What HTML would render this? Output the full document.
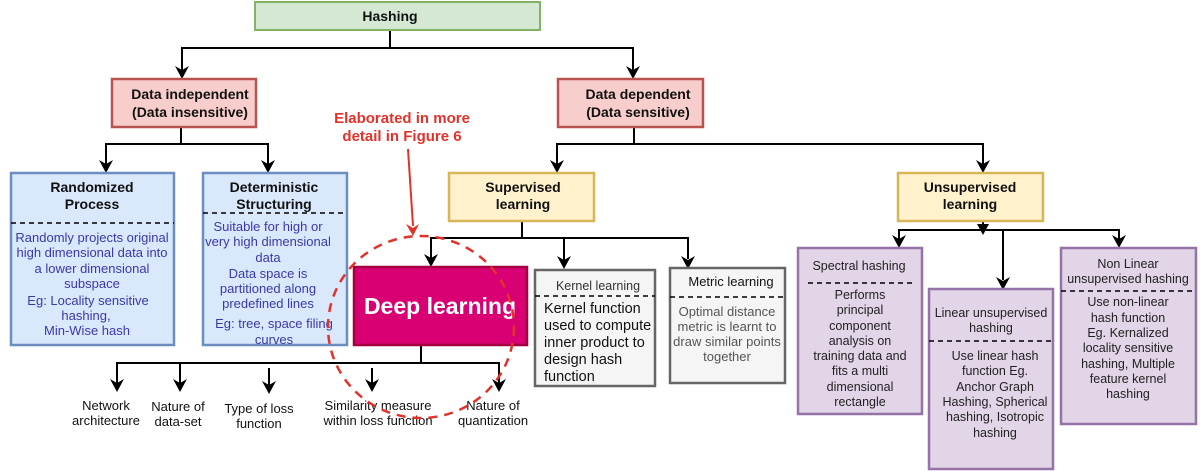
<!DOCTYPE html>
<html><head><meta charset="utf-8"><style>
html,body{margin:0;padding:0;background:#fff;}
svg{display:block;font-family:"Liberation Sans",Arial,sans-serif;}
.t{font-weight:bold;font-size:14px;fill:#111;text-anchor:middle;}
.b{font-size:13px;fill:#3a3aa8;text-anchor:middle;}
.g{font-size:12.5px;fill:#222;text-anchor:middle;}
.m{font-size:13px;fill:#555;text-anchor:middle;}
.bl{font-size:13px;fill:#111;text-anchor:middle;}
.ln{stroke:#000;stroke-width:2;fill:none;}
.ds{stroke:#000;stroke-width:1.6;stroke-dasharray:5,4;}
</style></head><body>
<svg width="1200" height="471" viewBox="0 0 1200 471" xmlns="http://www.w3.org/2000/svg">

<!-- connectors -->
<polyline class="ln" points="390,30 390,48"/>
<polyline class="ln" points="182,70 182,48 633,48 633,70"/>
<path d="M175,66 L182,79 L189,66 L182,70Z M626,66 L633,79 L640,66 L633,70Z" fill="#000"/>
<polyline class="ln" points="181,127 181,144"/>
<polyline class="ln" points="106,165 106,144 268,144 268,165"/>
<path d="M99,160 L106,173 L113,160 L106,164Z M261,160 L268,173 L275,160 L268,164Z" fill="#000"/>
<polyline class="ln" points="634,127 634,144"/>
<polyline class="ln" points="557,165 557,144 983,144 983,165"/>
<path d="M550,160 L557,173 L564,160 L557,164Z M976,160 L983,173 L990,160 L983,164Z" fill="#000"/>
<polyline class="ln" points="522,221 522,238"/>
<polyline class="ln" points="431,259 431,238 688,238 688,259"/>
<polyline class="ln" points="564,238 564,261"/>
<path d="M424,254 L431,267 L438,254 L431,258Z M557,256 L564,269 L571,256 L564,260Z M681,256 L688,269 L695,256 L688,260Z" fill="#000"/>
<polyline class="ln" points="983,221 983,230"/>
<path d="M977,224 L983,235 L989,224Z" fill="#000"/>
<polyline class="ln" points="899,240 899,230 1119,230 1119,240"/>
<polyline class="ln" points="1003,230 1003,280"/>
<path d="M892,235 L899,248 L906,235 L899,239Z M1112,235 L1119,248 L1126,235 L1119,239Z M996,277 L1003,290 L1010,277 L1003,281Z" fill="#000"/>
<polyline class="ln" points="421,345 421,363"/>
<polyline class="ln" points="117,384 117,363 499,363 499,384"/>
<polyline class="ln" points="180,363 180,384"/>
<polyline class="ln" points="269,368 269,386"/>
<polyline class="ln" points="372,368 372,384"/>
<path d="M110,379 L117,392 L124,379 L117,383Z M173,379 L180,392 L187,379 L180,383Z M262,381 L269,394 L276,381 L269,385Z M365,379 L372,392 L379,379 L372,383Z M492,379 L499,392 L506,379 L499,383Z" fill="#000"/>

<!-- Hashing -->
<rect x="255" y="2" width="285" height="28" fill="#d5e8d4" stroke="#82b366" stroke-width="2"/>
<text class="t" x="390" y="21">Hashing</text>
<rect x="112" y="79" width="144" height="48" fill="#f8cecc" stroke="#b85450" stroke-width="2.5"/>
<text class="t" x="190" y="99">Data independent</text><text class="t" x="190" y="117">(Data insensitive)</text>
<rect x="558" y="79" width="145" height="48" fill="#f8cecc" stroke="#b85450" stroke-width="2.5"/>
<text class="t" x="638" y="99">Data dependent</text><text class="t" x="638" y="117">(Data sensitive)</text>

<!-- Randomized -->
<rect x="11" y="173" width="163" height="172" fill="#dae8fc" stroke="#6c8ebf" stroke-width="2.5"/>
<text class="t" x="92" y="192">Randomized</text><text class="t" x="92" y="209">Process</text>
<line class="ds" x1="11" y1="223" x2="174" y2="223"/>
<text class="b" x="92" y="242">Randomly projects original</text>
<text class="b" x="92" y="257">high dimensional data  into</text>
<text class="b" x="92" y="273">a lower dimensional</text>
<text class="b" x="92" y="288">subspace</text>
<text class="b" x="88" y="305">Eg: Locality sensitive</text>
<text class="b" x="86" y="320">hashing,</text>
<text class="b" x="87" y="335">Min-Wise hash</text>

<!-- Deterministic -->
<rect x="203" y="173" width="144" height="172" fill="#dae8fc" stroke="#6c8ebf" stroke-width="2.5"/>
<text class="t" x="274" y="192">Deterministic</text><text class="t" x="274" y="209">Structuring</text>
<line class="ds" x1="203" y1="213" x2="347" y2="213"/>
<text class="b" x="268" y="231">Suitable for high or</text>
<text class="b" x="268" y="246">very high dimensional</text>
<text class="b" x="268" y="262">data</text>
<text class="b" x="268" y="278">Data space is</text>
<text class="b" x="268" y="293">partitioned along</text>
<text class="b" x="268" y="308">predefined lines</text>
<text class="b" x="274" y="328">Eg: tree, space filing</text>
<text class="b" x="274" y="344">curves</text>

<!-- Supervised / Unsupervised -->
<rect x="449" y="173" width="145" height="48" fill="#fff2cc" stroke="#d6b656" stroke-width="2.5"/>
<text class="t" x="523" y="192">Supervised</text><text class="t" x="523" y="209">learning</text>
<rect x="898" y="173" width="145" height="48" fill="#fff2cc" stroke="#d6b656" stroke-width="2.5"/>
<text class="t" x="970" y="192">Unsupervised</text><text class="t" x="970" y="209">learning</text>

<!-- Deep learning -->
<rect x="354" y="267" width="173" height="78" fill="#d80073" stroke="#a50040" stroke-width="2.5"/>
<text x="440" y="314" text-anchor="middle" font-weight="bold" font-size="23" fill="#fff">Deep learning</text>

<!-- Kernel -->
<rect x="535" y="270" width="120" height="116" fill="#f5f5f5" stroke="#666" stroke-width="2.5"/>
<text x="598" y="290" text-anchor="middle" font-size="12.5" fill="#333">Kernel learning</text>
<line class="ds" x1="535" y1="296" x2="655" y2="296"/>
<text x="544" y="313" font-size="14.5" fill="#111">Kernel function</text>
<text x="544" y="330" font-size="14.5" fill="#111">used to compute</text>
<text x="544" y="347" font-size="14.5" fill="#111">inner product to</text>
<text x="544" y="364" font-size="14.5" fill="#111">design hash</text>
<text x="544" y="381" font-size="14.5" fill="#111">function</text>

<!-- Metric -->
<rect x="670" y="268" width="115" height="115" fill="#f5f5f5" stroke="#666" stroke-width="2.5"/>
<text x="731" y="286" text-anchor="middle" font-size="13" fill="#111">Metric learning</text>
<line class="ds" x1="670" y1="297" x2="785" y2="297"/>
<text class="m" x="727" y="316">Optimal distance</text>
<text class="m" x="727" y="331">metric is learnt to</text>
<text class="m" x="727" y="346">draw similar points</text>
<text class="m" x="727" y="361">together</text>

<!-- Spectral -->
<rect x="798" y="248" width="124" height="166" fill="#e1d5e7" stroke="#9673a6" stroke-width="2.5"/>
<text class="g" x="859" y="270">Spectral hashing</text>
<line class="ds" x1="808" y1="283" x2="912" y2="283"/>
<text class="g" x="860" y="299">Performs</text>
<text class="g" x="860" y="314">principal</text>
<text class="g" x="860" y="330">component</text>
<text class="g" x="860" y="345">analysis on</text>
<text class="g" x="860" y="360">training data and</text>
<text class="g" x="860" y="375">fits a multi</text>
<text class="g" x="860" y="391">dimensional</text>
<text class="g" x="860" y="406">rectangle</text>

<!-- Linear -->
<rect x="929" y="289" width="124" height="180" fill="#e1d5e7" stroke="#9673a6" stroke-width="2.5"/>
<text class="g" x="991" y="317">Linear unsupervised</text>
<text class="g" x="991" y="332">hashing</text>
<line class="ds" x1="929" y1="341" x2="1053" y2="341"/>
<text class="g" x="995" y="360">Use linear hash</text>
<text class="g" x="995" y="375">function Eg.</text>
<text class="g" x="995" y="391">Anchor Graph</text>
<text class="g" x="995" y="406">Hashing, Spherical</text>
<text class="g" x="995" y="421">hashing, Isotropic</text>
<text class="g" x="995" y="437">hashing</text>

<!-- Non linear -->
<rect x="1061" y="248" width="135" height="176" fill="#e1d5e7" stroke="#9673a6" stroke-width="2.5"/>
<text class="g" x="1128" y="268">Non Linear</text>
<text class="g" x="1128" y="283">unsupervised hashing</text>
<line class="ds" x1="1061" y1="291" x2="1196" y2="291"/>
<text class="g" x="1128" y="306">Use non-linear</text>
<text class="g" x="1128" y="322">hash function</text>
<text class="g" x="1128" y="337">Eg. Kernalized</text>
<text class="g" x="1128" y="352">locality sensitive</text>
<text class="g" x="1128" y="368">hashing, Multiple</text>
<text class="g" x="1128" y="383">feature kernel</text>
<text class="g" x="1128" y="398">hashing</text>

<!-- bottom labels -->
<text class="bl" x="106" y="410">Network</text><text class="bl" x="106" y="425">architecture</text>
<text class="bl" x="178" y="411">Nature of</text><text class="bl" x="178" y="426">data-set</text>
<text class="bl" x="259" y="413">Type of loss</text><text class="bl" x="259" y="428">function</text>
<text class="bl" x="378" y="410">Similarity measure</text><text class="bl" x="378" y="425">within loss function</text>
<text class="bl" x="493" y="410">Nature of</text><text class="bl" x="493" y="425">quantization</text>

<!-- red annotation -->
<text x="402" y="123" text-anchor="middle" font-weight="bold" font-size="15" fill="#e0332b">Elaborated in more</text>
<text x="402" y="141" text-anchor="middle" font-weight="bold" font-size="15" fill="#e0332b">detail in Figure 6</text>
<line x1="408" y1="149" x2="413" y2="226" stroke="#e0332b" stroke-width="2"/>
<path d="M406,224 L413,236 L419,224 L413,228Z" fill="#e0332b"/>
<ellipse cx="421" cy="327" rx="93" ry="91" fill="none" stroke="#e0332b" stroke-width="2.5" stroke-dasharray="9,7"/>
</svg>
</body></html>
